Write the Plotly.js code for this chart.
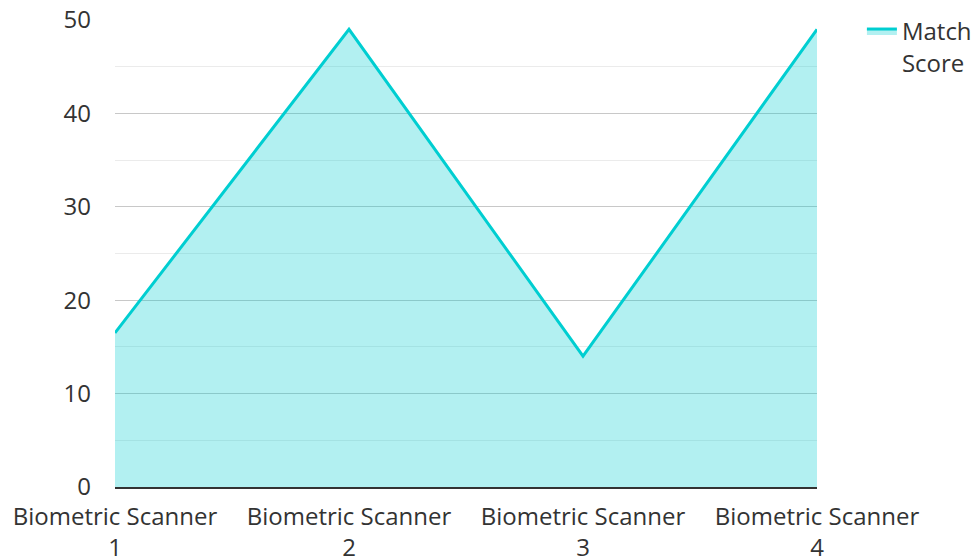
<!DOCTYPE html>
<html>
<head>
<meta charset="utf-8">
<script src="https://cdn.plot.ly/plotly-3.0.1.min.js"></script>
<style>html,body{margin:0;padding:0;background:#fff;}#chart{width:975px;height:558px;}</style>
</head>
<body>
<div id="chart"></div>
<script>
var categories = ["Biometric Scanner<br>1", "Biometric Scanner<br>2", "Biometric Scanner<br>3", "Biometric Scanner<br>4"];
var matchScore = [16.5, 49, 14, 49];
var seriesName = "Match<br>Score";

var trace = {
  x: categories,
  y: matchScore,
  type: "scatter",
  mode: "lines",
  name: seriesName,
  fill: "tozeroy",
  fillcolor: "rgba(0,206,209,0.3)",
  line: {color: "#00CED1", width: 3}
};

var layout = {
  width: 975,
  height: 558,
  margin: {l: 115, r: 158, t: 20, b: 71},
  paper_bgcolor: "#fff",
  plot_bgcolor: "#fff",
  font: {family: "Open Sans, sans-serif", size: 24, color: "#333"},
  showlegend: true,
  legend: {xref: "container", yref: "container", x: 0.884, y: 0.984,
           xanchor: "left", yanchor: "top", valign: "top",
           font: {size: 24, color: "#333"}},
  xaxis: {
    type: "category",
    range: [0, 3],
    automargin: false,
    showgrid: false,
    showline: true,
    linecolor: "#333",
    linewidth: 2,
    ticks: "",
    ticklabelstandoff: 7,
    tickfont: {size: 24, color: "#333"}
  },
  yaxis: {
    range: [0, 50],
    dtick: 10,
    automargin: false,
    showgrid: true,
    gridcolor: "#c8c8c8",
    gridwidth: 1,
    minor: {dtick: 5, showgrid: true, gridcolor: "#ebebeb", gridwidth: 1},
    zeroline: false,
    showline: false,
    ticks: "",
    ticklabelstandoff: 23,
    tickfont: {size: 24, color: "#333"}
  }
};

Plotly.newPlot("chart", [trace], layout, {displayModeBar: false});
</script>
</body>
</html>
